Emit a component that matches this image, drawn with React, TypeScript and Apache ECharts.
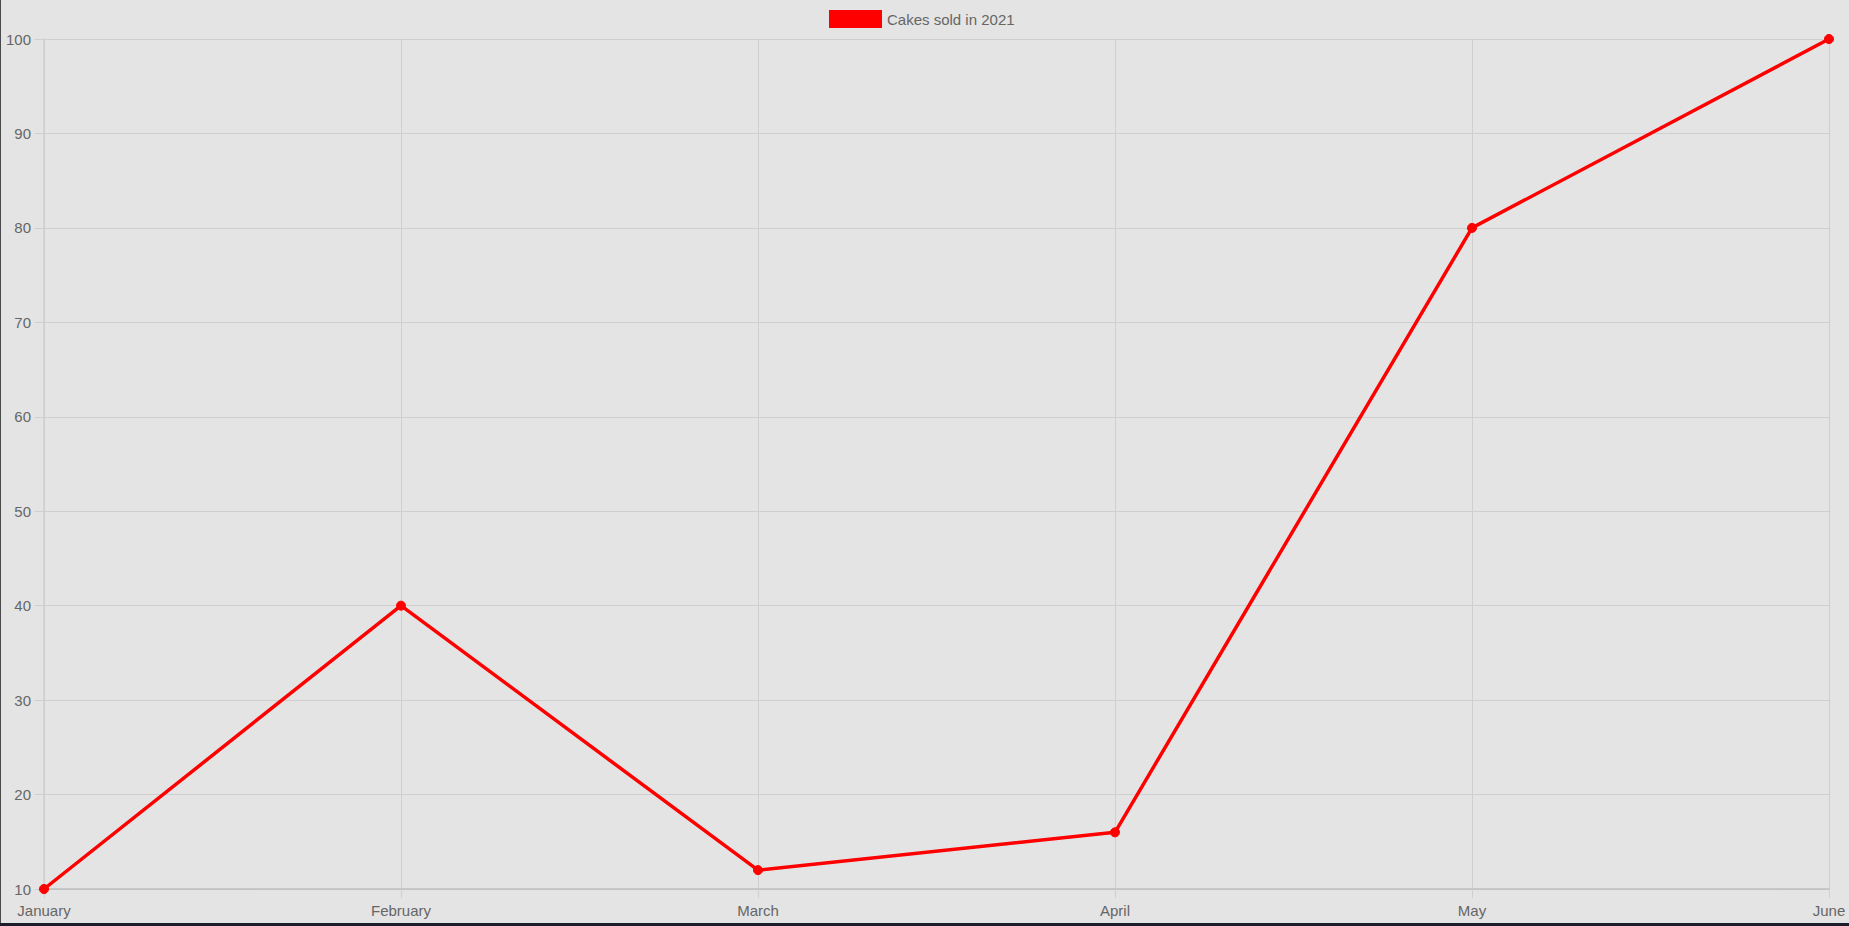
import React, { useEffect, useRef } from "react";
import * as echarts from "echarts";

const months = ["January", "February", "March", "April", "May", "June"];
const cakesSold = [10, 40, 12, 16, 80, 100];
const seriesName = "Cakes sold in 2021";

export default function App() {
  const ref = useRef<HTMLDivElement>(null);

  useEffect(() => {
    document.body.style.margin = "0";
    const chart = echarts.init(ref.current!, undefined, { renderer: "svg" });
    const textStyle = { color: "#666", fontFamily: "Liberation Sans, Arial, Helvetica, sans-serif", fontSize: 15 };
    chart.setOption({
      animation: false,
      backgroundColor: "#e4e4e4",
      textStyle,
      legend: {
        show: true,
        top: 10,
        left: 828,
        padding: 0,
        icon: "rect",
        itemWidth: 53,
        itemHeight: 18,
        itemGap: 10,
        textStyle: { ...textStyle },
        data: [{ name: seriesName, itemStyle: { color: "#ff0000", borderColor: "#ff0000" } }],
      },
      grid: { left: 43, right: 20, top: 39, bottom: 34, containLabel: false },
      xAxis: {
        type: "category",
        data: months,
        boundaryGap: false,
        axisLine: { show: true, lineStyle: { color: "#bfbfbf", width: 1.5 } },
        axisTick: { show: true, alignWithLabel: true, length: 9, lineStyle: { color: "#cfcfcf" } },
        axisLabel: { ...textStyle, margin: 14 },
        splitLine: { show: true, lineStyle: { color: "#cfcfcf", width: 1 } },
      },
      yAxis: {
        type: "value",
        min: 10,
        max: 100,
        interval: 10,
        axisLine: { show: true, lineStyle: { color: "#cfcfcf", width: 1.5 } },
        axisTick: { show: true, length: 9, lineStyle: { color: "#cfcfcf" } },
        axisLabel: { ...textStyle, margin: 13 },
        splitLine: { show: true, lineStyle: { color: "#cfcfcf", width: 1 } },
      },
      series: [
        {
          name: seriesName,
          type: "line",
          data: cakesSold,
          symbol: "circle",
          symbolSize: 9,
          showSymbol: true,
          lineStyle: { color: "#ff0000", width: 3.5 },
          itemStyle: { color: "#ff0000", borderColor: "#ff0000" },
        },
      ],
    });
    const onResize = () => chart.resize();
    window.addEventListener("resize", onResize);
    return () => {
      window.removeEventListener("resize", onResize);
      chart.dispose();
    };
  }, []);

  return (
    <div style={{ width: 1849, height: 926, background: "#1c1c2a", position: "relative", overflow: "hidden" }}>
      <div style={{ position: "absolute", left: 0, top: 0, width: 1, height: 923, background: "#4a4a4a" }} />
      <div ref={ref} style={{ position: "absolute", left: 1, top: 0, width: 1848, height: 923 }} />
    </div>
  );
}
